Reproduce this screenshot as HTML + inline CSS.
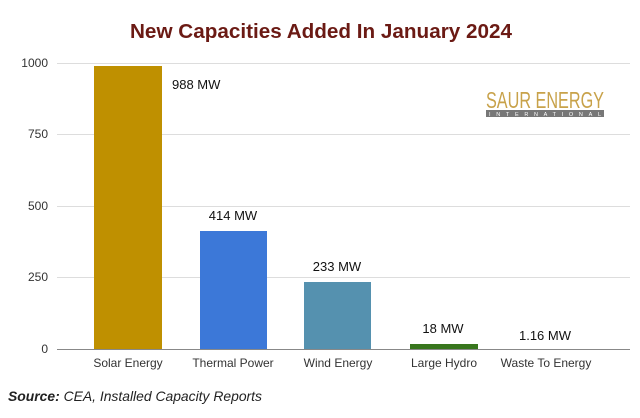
<!DOCTYPE html>
<html><head><meta charset="utf-8"><style>
body{margin:0;background:#fff;width:640px;height:413px;overflow:hidden}
svg text{font-family:"Liberation Sans",Arial,sans-serif}
</style></head><body>
<svg width="640" height="413" viewBox="0 0 640 413">
<text x="321" y="38" text-anchor="middle" font-size="20" font-weight="bold" fill="#6b1a14" textLength="382" lengthAdjust="spacingAndGlyphs">New Capacities Added In January 2024</text>
<g stroke="#dddddd" stroke-width="1">
<line x1="57" y1="63.5" x2="630" y2="63.5"/>
<line x1="57" y1="134.5" x2="630" y2="134.5"/>
<line x1="57" y1="206.5" x2="630" y2="206.5"/>
<line x1="57" y1="277.5" x2="630" y2="277.5"/>
</g>
<g font-size="12" fill="#333" text-anchor="end">
<text x="48" y="67">1000</text><text x="48" y="138">750</text><text x="48" y="210">500</text><text x="48" y="281">250</text><text x="48" y="353">0</text>
</g>
<rect x="94" y="66" width="68" height="283" fill="#bf9000"/>
<rect x="200" y="231" width="67" height="118" fill="#3c78d8"/>
<rect x="304" y="282" width="67" height="67" fill="#5591af"/>
<rect x="410" y="344" width="68" height="5" fill="#38761d"/>
<line x1="57" y1="349.5" x2="630" y2="349.5" stroke="#888" stroke-width="1"/>
<g font-size="13" fill="#111">
<text x="172" y="89">988 MW</text>
<text x="233" y="220" text-anchor="middle">414 MW</text>
<text x="337" y="271" text-anchor="middle">233 MW</text>
<text x="443" y="333" text-anchor="middle">18 MW</text>
<text x="545" y="340" text-anchor="middle">1.16 MW</text>
</g>
<g font-size="12" fill="#333" text-anchor="middle">
<text x="128" y="367">Solar Energy</text>
<text x="233" y="367">Thermal Power</text>
<text x="338" y="367">Wind Energy</text>
<text x="444" y="367">Large Hydro</text>
<text x="546" y="367">Waste To Energy</text>
</g>
<text x="8" y="401" font-size="14" font-style="italic" fill="#222" textLength="254" lengthAdjust="spacingAndGlyphs"><tspan font-weight="bold">Source:</tspan> CEA, Installed Capacity Reports</text>
<text x="545" y="108" text-anchor="middle" font-size="23" fill="#c8a24a" textLength="118" lengthAdjust="spacingAndGlyphs">SAUR ENERGY</text>
<rect x="486" y="110" width="118" height="7" fill="#777"/>
<text x="545" y="116" text-anchor="middle" font-size="5.5" fill="#fff" textLength="112" lengthAdjust="spacing">INTERNATIONAL</text>
</svg>
</body></html>
